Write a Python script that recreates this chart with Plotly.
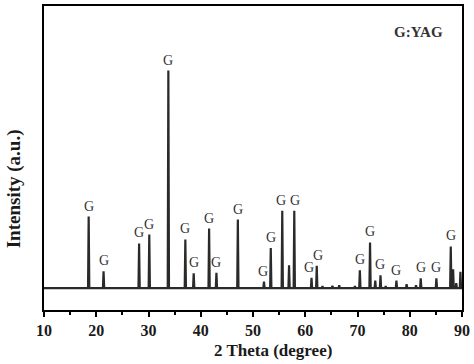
import plotly.graph_objects as go

# Peak positions (2θ, degree) and heights (a.u.)
peak_pos = [18.55, 21.4, 28.2, 30.15, 33.8, 37.05, 38.65, 41.6, 43.0, 47.1,
            52.1, 53.4, 55.6, 56.9, 57.9, 61.2, 62.2, 63.3, 65.2, 66.5, 69.5,
            70.45, 72.4, 73.4, 74.4, 75.4, 77.45, 79.4, 81.2, 82.1, 85.1,
            87.85, 88.3, 88.9, 89.7]
peak_int = [72, 17, 45, 54, 219, 49, 15, 60, 15.5, 69,
            6.5, 40.5, 78, 23, 78, 10.5, 22.5, 2, 2.5, 3, 2,
            18, 46, 7.5, 13, 2, 7.5, 4, 3, 10, 10,
            42, 19, 5, 16.5]

# "G" labelled reflections
label_pos = [18.55, 21.4, 28.2, 30.15, 33.8, 37.05, 38.65, 41.6, 43.0, 47.1,
             52.1, 53.4, 55.6, 57.9, 61.2, 62.2, 70.45, 72.4, 74.4, 77.45,
             82.1, 85.1, 87.85]
label_txt = ["G"] * len(label_pos)
label_dx = [0, 0, 0, 0, 0, 0, 0, 0, 0, 0,
            -1, 0, -1, 1, -3, 1, 0, 0, 0, 0,
            0, 0, 0]

x_ticks = [10, 20, 30, 40, 50, 60, 70, 80, 90]

# build a spike profile from the peak table
half_w = 0.12
xs, ys = [10.0], [0.0]
for p, h in sorted(zip(peak_pos, peak_int)):
    xs += [p - half_w, p, p + half_w]
    ys += [0.0, h, 0.0]
xs.append(90.0)
ys.append(0.0)

peak_lookup = dict(zip(peak_pos, peak_int))

SERIF = "Liberation Serif"

fig = go.Figure()
fig.add_trace(go.Scatter(x=xs, y=ys, mode="lines",
                         line=dict(color="#2a2a2a", width=2.2),
                         hoverinfo="skip", showlegend=False))

for p, t, dx in zip(label_pos, label_txt, label_dx):
    fig.add_annotation(x=p, y=peak_lookup[p], text=t, showarrow=False,
                       yanchor="bottom", yshift=1, xshift=dx,
                       font=dict(family=SERIF, size=14, color="#333333"))

fig.add_annotation(x=0.897, y=0.915, xref="paper", yref="paper", text="G:YAG",
                   showarrow=False, xanchor="center", yanchor="middle",
                   font=dict(family=SERIF, size=15, color="#333333", weight="bold"))

fig.add_annotation(x=-0.072, y=0.40, xref="paper", yref="paper",
                   text="Intensity (a.u.)", textangle=-90, showarrow=False,
                   xanchor="center", yanchor="middle",
                   font=dict(family=SERIF, size=19, color="#1a1a1a", weight="bold"))

fig.add_annotation(x=0.549, y=-0.134, xref="paper", yref="paper",
                   text="2 Theta (degree)", showarrow=False,
                   xanchor="center", yanchor="middle",
                   font=dict(family=SERIF, size=17, color="#1a1a1a", weight="bold"))

fig.update_xaxes(range=[10, 90], tickvals=x_ticks,
                 ticktext=[str(v) for v in x_ticks],
                 ticks="outside", ticklen=5, tickwidth=2, tickcolor="black",
                 minor=dict(dtick=5, ticks="outside", ticklen=3, tickwidth=2, tickcolor="black"),
                 showline=True, linewidth=2, linecolor="black", mirror=True,
                 showgrid=False, zeroline=False,
                 tickfont=dict(family=SERIF, size=16, color="#1a1a1a", weight="bold"))
fig.update_yaxes(range=[-22, 284], showticklabels=False, ticks="",
                 showline=True, linewidth=2, linecolor="black", mirror=True,
                 showgrid=False, zeroline=False)

fig.update_layout(width=474, height=364,
                  margin=dict(l=44, r=11, t=4, b=54),
                  plot_bgcolor="white", paper_bgcolor="white")

fig.write_html("out.html", config={"displayModeBar": False},
               post_script="document.body.style.margin='0';")
